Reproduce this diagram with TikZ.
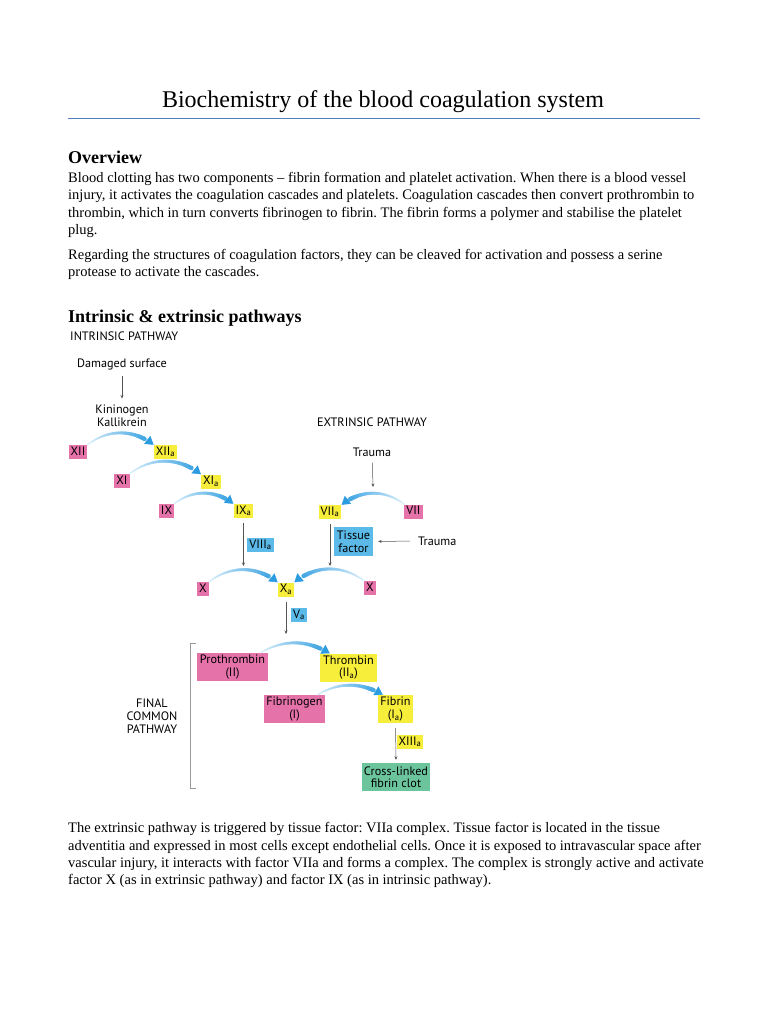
\documentclass[tikz,border=0pt]{standalone}
\usepackage{fontspec}
\setmainfont{Liberation Serif}
\newfontfamily\diagfont{PT Sans}
\usetikzlibrary{arrows.meta,decorations.markings}
\definecolor{FPink}{HTML}{E672AA}
\definecolor{FYellow}{HTML}{F7EE3C}
\definecolor{FBlue}{HTML}{5CBAE8}
\definecolor{FGreen}{HTML}{6CC49C}
\definecolor{FlowBlue}{HTML}{2C9CE0}
\definecolor{FlowPale}{HTML}{DDF0FB}
\definecolor{RuleBlue}{HTML}{4F81BD}
\definecolor{TGray}{HTML}{555555}
\frenchspacing

\begin{document}
\begin{tikzpicture}[x=1pt,y=1pt,
  f/.style={inner sep=2pt,font=\diagfont\fontsize{12.2}{12.5}\selectfont,align=center},
  sbox/.style={text height=8.5pt,text depth=2.5pt,inner ysep=1.5pt,inner xsep=2pt},
  pink/.style={f,fill=FPink},
  yel/.style={f,fill=FYellow},
  blu/.style={f,fill=FBlue},
  grn/.style={f,fill=FGreen},
  lbl/.style={font=\diagfont\fontsize{12.2}{12.8}\selectfont,align=center,inner sep=0pt},
  body/.style={anchor=north west,inner sep=0,align=left,font=\fontsize{14.5}{17.3}\selectfont},
  a/.style={-{Stealth[length=3.5pt,width=3pt]},draw=TGray,line width=0.5pt},
  flow/.style={postaction={decorate,decoration={markings,
      mark=between positions 0 and 0.86 step 0.7pt with {
        \pgfmathtruncatemacro\flowpct{100*\pgfkeysvalueof{/pgf/decoration/mark info/distance from start}/\pgfdecoratedpathlength}
        \fill[FlowBlue!\flowpct!FlowPale] (0,0) circle[radius=0.8+1.6*\flowpct/100];},
      mark=at position 1 with {\arrow[FlowBlue]{Triangle[length=8pt,width=10pt]}}}}}
]
\useasboundingbox[fill=white] (0,0) rectangle (768,-1024);

% page text
\node[anchor=base,inner sep=0,font=\fontsize{24}{28}\selectfont] (title) at (383,-108)
  {Biochemistry of the blood coagulation system};
\draw[RuleBlue,line width=0.8pt] (68,-118) -- (700,-118);
\node[anchor=base west,inner sep=0,font=\bfseries\fontsize{18}{21}\selectfont] (ovhead) at (68,-164) {Overview};
\node[body] (ovtext) at (68,-172)
  {Blood clotting has two components -- fibrin formation and platelet activation. When there is a blood vessel\\
   injury, it activates the coagulation cascades and platelets. Coagulation cascades then convert prothrombin to\\
   thrombin, which in turn converts fibrinogen to fibrin. The fibrin forms a polymer and stabilise the platelet\\
   plug.};
\node[body] (regtext) at (68,-249)
  {Regarding the structures of coagulation factors, they can be cleaved for activation and possess a serine\\
   protease to activate the cascades.};
\node[anchor=base west,inner sep=0,font=\bfseries\fontsize{18}{21}\selectfont] (pathhead) at (68,-322)
  {Intrinsic \& extrinsic pathways};
\node[body] (extext) at (68,-822.5)
  {The extrinsic pathway is triggered by tissue factor: VIIa complex. Tissue factor is located in the tissue\\
   adventitia and expressed in most cells except endothelial cells. Once it is exposed to intravascular space after\\
   vascular injury, it interacts with factor VIIa and forms a complex. The complex is strongly active and activate\\
   factor X (as in extrinsic pathway) and factor IX (as in intrinsic pathway).};

% diagram labels
\node[lbl,anchor=west] (intr) at (70,-336) {INTRINSIC PATHWAY};
\node[lbl] (damaged) at (122,-364) {Damaged surface};
\node[lbl] (kinin) at (122,-415.5) {Kininogen\\Kallikrein};
\node[lbl] (extr) at (372,-422) {EXTRINSIC PATHWAY};
\node[lbl] (trauma) at (372,-452) {Trauma};
\node[lbl,anchor=west] (trauma2) at (418,-541) {Trauma};
\node[lbl] (final) at (152,-716) {FINAL\\COMMON\\PATHWAY};

% factors
\node[pink,sbox] (xii) at (78,-452) {XII};
\node[yel,sbox] (xiia) at (165.5,-452) {XII\textsubscript{a}};
\node[pink,sbox] (xi) at (122,-481) {XI};
\node[yel,sbox] (xia) at (211,-481.5) {XI\textsubscript{a}};
\node[pink,sbox] (ix) at (166.5,-511) {IX};
\node[yel,sbox] (ixa) at (243.5,-511) {IX\textsubscript{a}};
\node[yel,sbox] (viia) at (330,-512) {VII\textsubscript{a}};
\node[pink,sbox] (vii) at (413.5,-511.5) {VII};
\node[blu,sbox] (viiia) at (260.5,-545) {VIII\textsubscript{a}};
\node[blu,minimum width=39pt,minimum height=29pt] (tissue) at (353.5,-541.5) {Tissue\\factor};
\node[pink,sbox] (xl) at (203,-589) {X};
\node[yel,sbox] (xa) at (286,-589.5) {X\textsubscript{a}};
\node[pink,sbox] (xr) at (370,-588) {X};
\node[blu,sbox] (va) at (299,-615) {V\textsubscript{a}};
\node[pink,minimum width=71pt,minimum height=28pt] (proth) at (232.5,-667) {Prothrombin\\(II)};
\node[yel,minimum width=57pt,minimum height=28pt] (thromb) at (348.5,-667.5) {Thrombin\\(II\textsubscript{a})};
\node[pink,minimum width=61pt,minimum height=28pt] (fibgen) at (294.5,-709) {Fibrinogen\\(I)};
\node[yel,minimum width=35pt,minimum height=28pt] (fibrin) at (395.5,-709) {Fibrin\\(I\textsubscript{a})};
\node[yel,sbox] (xiiia) at (410,-742) {XIII\textsubscript{a}};
\node[grn,minimum width=68pt,minimum height=28pt] (clot) at (396,-777) {Cross-linked\\fibrin clot};

% free ends of the thin arrows
\coordinate (viiarc) at (373,-487);
\coordinate (ixdown) at (243.5,-566);
\coordinate (viidown) at (330,-566);
\coordinate (xadown) at (286,-634);

% thin arrows
\draw[a,shorten <=6pt,shorten >=6pt] (damaged) -- (kinin);
\draw[a,shorten <=6pt] (trauma) -- (viiarc);
\draw[a,shorten <=5pt] (ixa.south) -- (ixdown);
\draw[a,shorten <=5pt] (viia.south) -- (viidown);
\draw[a,shorten <=8pt,shorten >=5pt] (trauma2.west) -- (tissue.east);
\draw[a,shorten <=5pt] (xa.south) -- (xadown);
\draw[a,shorten <=5pt,shorten >=3pt] (fibrin.south) -- (clot.north);

% blue activation arrows
\path[flow] (xii.north east) to[bend left=38] (xiia.north west);
\path[flow] (xi.north east) to[bend left=38] (xia.north west);
\path[flow] (ix.north east) to[bend left=38] (ixa.north west);
\path[flow] (vii.north west) to[bend right=38] (viia.north east);
\path[flow] (xl.north east) to[bend left=38] (xa.north west);
\path[flow] (xr.north west) to[bend right=38] (xa.north east);
\path[flow] ([xshift=-8pt]proth.north east) to[bend left=30] ([xshift=10pt]thromb.north west);
\path[flow] ([xshift=-8pt]fibgen.north east) to[bend left=30] ([xshift=5pt]fibrin.north west);

% bracket
\draw[TGray!60,line width=0.6pt] (196,-643) -- (190,-643) -- (190,-788) -- (196,-788);
\end{tikzpicture}
\end{document}
